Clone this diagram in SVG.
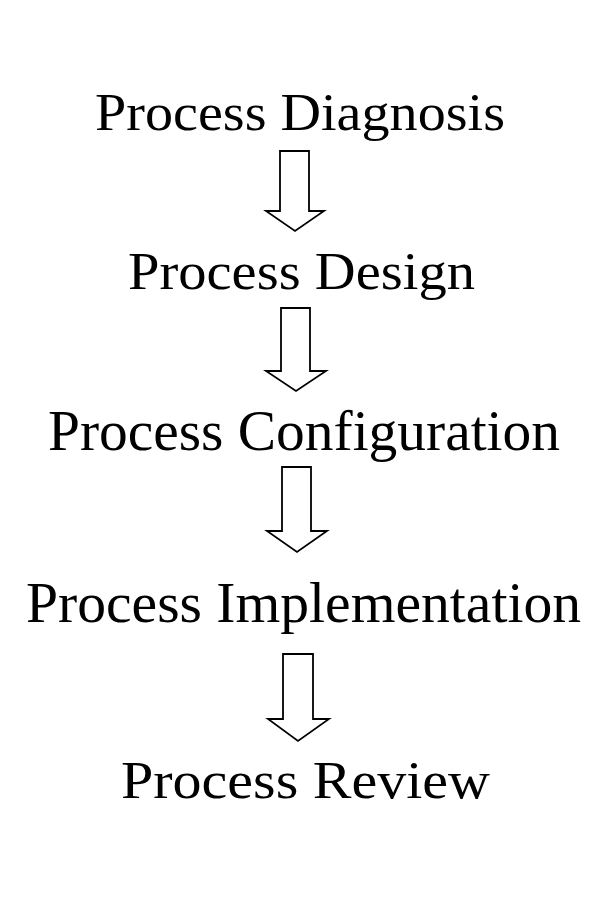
<svg xmlns="http://www.w3.org/2000/svg" width="600" height="900" viewBox="0 0 600 900">
<style>
.lbl{font-family:"Liberation Serif","Times New Roman",serif;fill:#000}
.arr{fill:#fff;stroke:#000;stroke-width:1.8;stroke-linejoin:miter}
</style>
<rect width="600" height="900" fill="#fff"/>
<g id="node-diagnosis"><text class="lbl" x="95" y="130" font-size="52" textLength="410" lengthAdjust="spacingAndGlyphs">Process Diagnosis</text></g>
<g id="node-design"><text class="lbl" x="128" y="289" font-size="52" textLength="347" lengthAdjust="spacingAndGlyphs">Process Design</text></g>
<g id="node-configuration"><text class="lbl" x="48" y="450" font-size="56" textLength="512" lengthAdjust="spacingAndGlyphs">Process Configuration</text></g>
<g id="node-implementation"><text class="lbl" x="26" y="622" font-size="58" textLength="555" lengthAdjust="spacingAndGlyphs">Process Implementation</text></g>
<g id="node-review"><text class="lbl" x="121" y="798" font-size="52" textLength="369" lengthAdjust="spacingAndGlyphs">Process Review</text></g>
<g id="connectors">
<polygon class="arr" points="280,151 309,151 309,211 324,211 295,231 266,211 280,211"/>
<polygon class="arr" points="281,308 310,308 310,371 326,371 296,391 266,371 281,371"/>
<polygon class="arr" points="282,467 311,467 311,531 327,531 297,552 267,531 282,531"/>
<polygon class="arr" points="283,654 313,654 313,719 329,719 298,741 268,719 283,719"/>
</g>
</svg>
